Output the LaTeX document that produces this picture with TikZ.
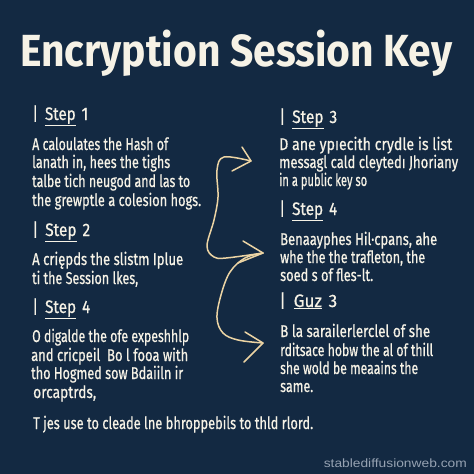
\documentclass[tikz,border=0pt]{standalone}
\usepackage{fontspec}
\setmainfont{Fira Sans}
\newfontfamily\bodyfont{Fira Sans}[FakeBold=0.7]
\newfontfamily\titlefont{Fira Sans Bold}
\newfontfamily\wmfont{Liberation Sans}
\usepackage{graphicx}
\definecolor{bg}{RGB}{19,41,66}
\definecolor{ink}{RGB}{246,242,230}
\definecolor{arw}{RGB}{236,212,164}
\definecolor{wm}{RGB}{150,162,178}
\newcommand{\fitw}[2]{\resizebox{#1pt}{\height}{#2}}
\newcommand{\stephdr}[2]{|\hspace{8pt}\underline{#1}\hspace{7pt}#2}
\begin{document}
\begin{tikzpicture}[x=1pt,y=-1pt,
  txt/.style={anchor=base west, inner sep=0pt, text=ink, font=\bodyfont\fontsize{17}{20}\selectfont},
  hdrtxt/.style={anchor=base west, inner sep=0pt, text=ink, font=\bodyfont\fontsize{18}{20}\selectfont},
  titletxt/.style={anchor=base west, inner sep=0pt, text=ink, font=\titlefont\fontsize{45}{50}\selectfont},
  wmtxt/.style={anchor=base east, inner sep=0pt, text=wm, font=\wmfont\fontsize{12}{14}\selectfont},
  arrowline/.style={draw=arw, line width=1.5pt, line cap=round, line join=round}]
\fill[bg] (0,0) rectangle (474,474);
\useasboundingbox (0,0) rectangle (474,474);

% title
\node[titletxt] (title) at (20,66) {\fitw{432}{Encryption Session Key}};

% left column
\node[hdrtxt] (h1) at (32,120) {\fitw{56}{\stephdr{Step}{1}}};
\node[txt] (l1a) at (32,150) {\fitw{136}{A caloulates the Hash of}};
\node[txt] (l1b) at (32,168) {\fitw{138}{lanath in, hees the tighs}};
\node[txt] (l1c) at (32,187) {\fitw{158}{talbe tich neugod and las to}};
\node[txt] (l1d) at (32,206) {\fitw{169}{the grewptle a colesion hogs.}};

\node[hdrtxt] (h2) at (32,236) {\fitw{58}{\stephdr{Step}{2}}};
\node[txt] (l2a) at (32,265) {\fitw{151}{A criępds the slistm Iplue}};
\node[txt] (l2b) at (32,284) {\fitw{106}{ti the Session lkes,}};

\node[hdrtxt] (h4) at (32,313) {\fitw{58}{\stephdr{Step}{4}}};
\node[txt] (l4a) at (32,342) {\fitw{157}{O digalde the ofe expeshhlp}};
\node[txt] (l4b) at (31,361) {\fitw{157}{and cricpeil\ \ Bo l fooa with}};
\node[txt] (l4c) at (31,379) {\fitw{152}{tho Hogmed sow Bdaiiln ir}};
\node[txt] (l4d) at (33,398) {\fitw{63}{orcaptrds,}};

\node[txt] (foot) at (33,429) {\fitw{280}{T jes use to cleade lne bhroppebils to thld rlord.}};

% right column
\node[hdrtxt] (h3) at (279,123) {\fitw{58}{\stephdr{Step}{3}}};
\node[txt] (r3a) at (279,150) {\fitw{173}{D ane ypıecith crydle is list}};
\node[txt] (r3b) at (279,168) {\fitw{179}{messagl cald cleytedı Jhoriany}};
\node[txt] (r3c) at (279,186) {\fitw{88}{in a public key so}};

\node[hdrtxt] (h4r) at (279,215) {\fitw{58}{\stephdr{Step}{4}}};
\node[txt] (r4a) at (280,245) {\fitw{157}{Benaayphes Hil·cpans, ahe}};
\node[txt] (r4b) at (280,263) {\fitw{145}{whe the the trafleton, the}};
\node[txt] (r4c) at (280,281) {\fitw{93}{soed s of fles-lt.}};

\node[hdrtxt] (hg) at (279,307) {\fitw{58}{\stephdr{Guz}{3}}};
\node[txt] (rga) at (280,337) {\fitw{150}{B la sarailerlerclel of she}};
\node[txt] (rgb) at (280,356) {\fitw{153}{rditsace hobw the al of thill}};
\node[txt] (rgc) at (280,374) {\fitw{138}{she wold be meaains the}};
\node[txt] (rgd) at (280,392) {\fitw{33}{same.}};

% watermark
\node[wmtxt] (wm) at (467,467) {\fitw{143}{stablediffusionweb.com}};

% arrows
\coordinate (t1) at (251,161);
\coordinate (t2) at (263,253);
\coordinate (t3) at (263,343);
\coordinate (p1) at (224,157);
\coordinate (p2) at (217,170);
\coordinate (p3) at (218,197);
\coordinate (p4) at (214,220);
\coordinate (p5) at (207,246);
\coordinate (p6) at (214,257);
\coordinate (p7) at (226,258);
\draw[arrowline] plot[smooth, tension=0.6] coordinates {(t1) (p1) (p2) (p3) (p4) (p5) (p6) (p7) (t2)};
\coordinate (q1) at (245,258);
\coordinate (q2) at (230,272);
\coordinate (q3) at (221,295);
\coordinate (q4) at (217,318);
\coordinate (q5) at (223,333);
\coordinate (q6) at (238,340);
\draw[arrowline] plot[smooth, tension=0.6] coordinates {(t2) (q1) (q2) (q3) (q4) (q5) (q6) (t3)};
% arrowheads
\coordinate (a1u) at (242,147);
\coordinate (a1l) at (232,171);
\coordinate (a2u) at (243,241);
\coordinate (a2l) at (238,263);
\coordinate (a3u) at (245,332);
\coordinate (a3l) at (244,362);
\draw[arrowline] (a1u) -- (t1) -- (a1l);
\draw[arrowline] (a2u) -- (t2) -- (a2l);
\draw[arrowline] (a3u) -- (t3) -- (a3l);
\end{tikzpicture}
\end{document}
